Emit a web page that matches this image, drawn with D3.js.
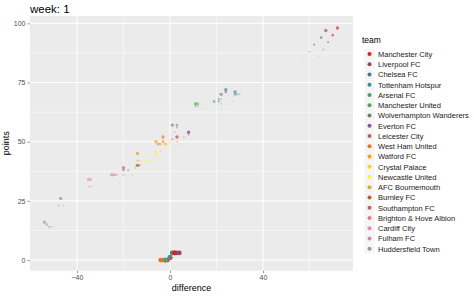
<!DOCTYPE html>
<html><head><meta charset="utf-8">
<script src="https://cdn.jsdelivr.net/npm/d3@7"></script>
<style>body{margin:0;background:#fff}svg{display:block}text{font-family:"Liberation Sans",Arial,sans-serif}</style>
</head><body><svg id="c" width="474" height="296"></svg>
<script>
const teams = ["Manchester City","Liverpool FC","Chelsea FC","Tottenham Hotspur","Arsenal FC","Manchester United","Wolverhampton Wanderers","Everton FC","Leicester City","West Ham United","Watford FC","Crystal Palace","Newcastle United","AFC Bournemouth","Burnley FC","Southampton FC","Brighton & Hove Albion","Cardiff City","Fulham FC","Huddersfield Town"];
// current frame (week 1)
const weekGd  = [2,4,3,1,-2,1,0,0,-1,-4,2,2,-1,2,0,0,-2,-2,-2,-3];
const weekPts = [3,3,3,3,0,3,1,1,0,0,3,3,0,3,1,1,0,0,0,0];
// wake: last weeks of the previous loop (oldest -> newest)
const trailGd = [
 [64,66,68,70,72],[57,60,62,65,67],[21,22,21,24,24],[27,30,29,28,28],[24,22,21,19,22],
 [13,12,11,12,11],[1,2,3,3,1],[4,6,8,8,8],[2,3,1,3,3],[-6,-5,-4,-5,-3],
 [2,0,-3,-3,-6],[-6,-5,-4,-2,-2],[-9,-8,-7,-10,-6],[-12,-13,-14,-14,-14],[-16,-15,-13,-14,-14],
 [-19,-20,-18,-20,-20],[-22,-23,-23,-24,-25],[-33,-34,-35,-34,-35],[-45,-46,-48,-47,-47],[-50,-51,-52,-53,-54]];
const trailPts = [
 [86,89,92,95,98],[85,88,91,94,97],[67,68,68,71,72],[67,70,70,70,71],[66,66,67,67,70],
 [64,65,65,66,66],[53,54,56,57,57],[49,52,53,54,54],[47,50,51,52,52],[46,49,49,49,52],
 [50,50,50,50,50],[42,43,46,49,49],[41,42,42,42,45],[41,42,42,45,45],[36,39,40,40,40],
 [36,36,38,38,39],[33,36,36,36,36],[31,31,31,34,34],[23,23,23,26,26],[14,14,14,15,16]];
const xTicks = [-40,0,40];
const xMinor = [-20,20,60];
const yTicks = [0,25,50,75,100];
const yMinor = [12.5,37.5,62.5,87.5];
const title = "week: 1";

const svg = d3.select("#c");
const P = {l:30, r:353, t:16, b:270.7};
const x = d3.scaleLinear().domain([-60.2,78.7]).range([P.l,P.r]);
const y = d3.scaleLinear().domain([-4.5,103.1]).range([P.b,P.t]);
const pal = d3.piecewise(d3.interpolateRgb, ["#E41A1C","#377EB8","#4DAF4A","#984EA3","#FF7F00","#FFFF33","#A65628","#F781BF","#999999"]);
const color = d3.scaleOrdinal().domain(teams).range(teams.map((d,i)=>pal(i/(teams.length-1))));

svg.append("rect").attr("x",P.l).attr("y",P.t).attr("width",P.r-P.l).attr("height",P.b-P.t).attr("fill","#EBEBEB");
const g = svg.append("g");
g.selectAll(".ymin").data(yMinor).join("line").attr("x1",P.l).attr("x2",P.r).attr("y1",d=>y(d)).attr("y2",d=>y(d)).attr("stroke","#fff").attr("stroke-width",0.5);
g.selectAll(".xmin").data(xMinor).join("line").attr("y1",P.t).attr("y2",P.b).attr("x1",d=>x(d)).attr("x2",d=>x(d)).attr("stroke","#fff").attr("stroke-width",0.5);
g.selectAll(".ymaj").data(yTicks).join("line").attr("x1",P.l).attr("x2",P.r).attr("y1",d=>y(d)).attr("y2",d=>y(d)).attr("stroke","#fff").attr("stroke-width",1);
g.selectAll(".xmaj").data(xTicks).join("line").attr("y1",P.t).attr("y2",P.b).attr("x1",d=>x(d)).attr("x2",d=>x(d)).attr("stroke","#fff").attr("stroke-width",1);

// axes
const ax = svg.append("g").attr("transform",`translate(0,${P.b})`).call(d3.axisBottom(x).tickValues(xTicks).tickSize(2.5).tickPadding(2).tickFormat(d3.format("d")));
const ay = svg.append("g").attr("transform",`translate(${P.l},0)`).call(d3.axisLeft(y).tickValues(yTicks).tickSize(2.5).tickPadding(2));
[ax,ay].forEach(a=>{a.select(".domain").remove();a.selectAll("line").attr("stroke","#333").attr("stroke-width",0.5);a.selectAll("text").attr("fill","#4D4D4D").attr("font-size",7);});

// wake
const trail = [];
teams.forEach((t,i)=>trailGd[i].forEach((gd,k)=>trail.push({t,gd,pts:trailPts[i][k],k})));
svg.append("g").selectAll("circle").data(trail).join("circle")
  .attr("cx",d=>x(d.gd)).attr("cy",d=>y(d.pts))
  .attr("r",d=>d.k===4?1.7:0.6+0.25*d.k)
  .attr("fill",d=>color(d.t)).attr("fill-opacity",d=>d.k===4?0.65:0.25+0.1*d.k);
// current
svg.append("g").selectAll("circle").data(teams.map((t,i)=>({t,gd:weekGd[i],pts:weekPts[i]})).reverse()).join("circle")
  .attr("cx",d=>x(d.gd)).attr("cy",d=>y(d.pts)).attr("r",2.4).attr("fill",d=>color(d.t));

svg.append("text").attr("x",30).attr("y",13).attr("font-size",11.5).attr("fill","#000").text(title);
svg.append("text").attr("x",(P.l+P.r)/2).attr("y",291).attr("text-anchor","middle").attr("font-size",9).text("difference");
svg.append("text").attr("transform",`translate(9,${(P.t+P.b)/2}) rotate(-90)`).attr("text-anchor","middle").attr("font-size",9).text("points");

// legend
const L = svg.append("g");
L.append("text").attr("x",362).attr("y",43).attr("font-size",8.5).text("team");
const it = L.selectAll("g").data(teams).join("g").attr("transform",(d,i)=>`translate(0,${54+i*10.25})`);
it.append("rect").attr("x",364.5).attr("y",-5).attr("width",10).attr("height",10).attr("fill","#F5F5F5");
it.append("circle").attr("cx",369.5).attr("cy",0).attr("r",2).attr("fill",d=>color(d));
it.append("text").attr("x",378).attr("y",2.8).attr("font-size",7.5).attr("fill","#1a1a1a").text(d=>d);
</script></body></html>
